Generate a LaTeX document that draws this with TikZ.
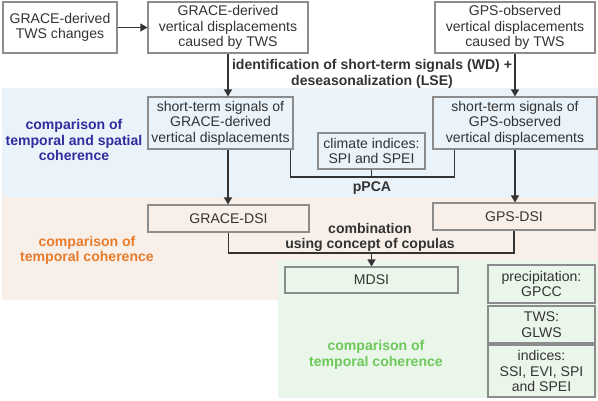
\documentclass[tikz,border=0pt]{standalone}
\usepackage{fontspec}
\setmainfont{Liberation Sans}
\usetikzlibrary{arrows.meta}
\definecolor{bandblue}{HTML}{EAF3FA}
\definecolor{bandpeach}{HTML}{F8F0E8}
\definecolor{bandgreen}{HTML}{EBF6EA}
\definecolor{boxgray}{HTML}{8C8C8C}
\definecolor{inkgray}{HTML}{333333}
\definecolor{zoneblue}{HTML}{2E2E9E}
\definecolor{zoneorange}{HTML}{E87B2C}
\definecolor{zonegreen}{HTML}{6CC95A}
\tikzset{
  box/.style={draw=boxgray,line width=0.6pt,align=center,inner sep=0pt,text=inkgray,
    font=\fontsize{8}{8.9}\selectfont},
  flow/.style={line width=0.75pt,draw=inkgray,-{Triangle[length=4pt,width=4.5pt]}},
  link/.style={line width=0.75pt,draw=inkgray},
  steplabel/.style={font=\fontsize{8}{8.9}\selectfont\bfseries,align=center,text=inkgray},
  zonelabel/.style={font=\fontsize{8}{8.9}\selectfont\bfseries,align=center}
}
\begin{document}
\begin{tikzpicture}[x=0.02cm,y=-0.02cm]
        \useasboundingbox (0,0) rectangle (598,400);
        % background bands
        \fill[bandblue] (2,88) rectangle (598,197);
        \fill[bandpeach] (2,197) rectangle (598,300);
        \fill[bandgreen] (278,260) rectangle (598,398);
        % top row
        \node[box,minimum width=2.28cm,minimum height=1.02cm] (tws) at (60,27.5) {GRACE-derived\\TWS changes};
        \node[box,minimum width=3.2cm,minimum height=1.02cm] (gracevd) at (228,27.5) {GRACE-derived\\vertical displacements\\caused by TWS};
        \node[box,minimum width=3.2cm,minimum height=1.02cm] (gpsvd) at (515,27.5) {GPS-observed\\vertical displacements\\caused by TWS};
        \draw[flow] (tws) -- (gracevd);
        \node[steplabel] (lse) at (372,74) {identification of short-term signals (WD) +\\deseasonalization (LSE)};
        % short-term signals
        \node[box,minimum width=2.9cm,minimum height=1.04cm] (stgrace) at (220.5,123) {short-term signals of\\GRACE-derived\\vertical displacements};
        \node[box,minimum width=3.28cm,minimum height=1.04cm] (stgps) at (515,123) {short-term signals of\\GPS-observed\\vertical displacements};
        \node[box,minimum width=2.14cm,minimum height=0.72cm] (climate) at (371.5,151) {climate indices:\\SPI and SPEI};
        \draw[flow] (gracevd.south) -- (gracevd.south |- stgrace.north);
        \draw[flow] (gpsvd.south) -- (gpsvd.south |- stgps.north);
        \coordinate (pca) at (371.5,177);
        \draw[link] ([xshift=-0.06cm]stgrace.south east) |- (pca) -| ([xshift=0.44cm]stgps.south west);
        \draw[link] (climate.south) -- (climate.south |- pca);
        \node[steplabel] (pcalabel) at (372,188) {pPCA};
        % drought indices
        \node[box,minimum width=3.22cm,minimum height=0.54cm] (gracedsi) at (228.5,218.5) {GRACE-DSI};
        \node[box,minimum width=3.24cm,minimum height=0.54cm] (gpsdsi) at (514,216.5) {GPS-DSI};
        \draw[flow] (gracevd.south |- stgrace.south) -- (gracevd.south |- gracedsi.north);
        \draw[flow] (stgps.south) -- (stgps.south |- gpsdsi.north);
        \coordinate (cop) at (371.5,253);
        \draw[link] (gracedsi.south) |- (cop) -| (gpsdsi.south);
        \node[steplabel] (coplabel) at (370,237.5) {combination\\using concept of copulas};
        % combined index and validation data
        \node[box,minimum width=3.46cm,minimum height=0.52cm] (mdsi) at (371.5,280) {MDSI};
        \draw[flow] (cop) -- (mdsi.north);
        \node[box,minimum width=2.14cm,minimum height=0.76cm] (precip) at (541.5,284) {precipitation:\\GPCC};
        \node[box,minimum width=2.14cm,minimum height=0.74cm] (glws) at (541.5,324.5) {TWS:\\GLWS};
        \node[box,minimum width=2.14cm,minimum height=1.04cm] (indices) at (541.5,371) {indices:\\SSI, EVI, SPI\\and SPEI};
        % zone labels
        \node[zonelabel,text=zoneblue] (zonespatial) at (74,140) {comparison of\\temporal and spatial\\coherence};
        \node[zonelabel,text=zoneorange] (zonedsi) at (87,250.5) {comparison of\\temporal coherence};
        \node[zonelabel,text=zonegreen] (zonemdsi) at (376,355) {comparison of\\temporal coherence};
    \end{tikzpicture}
\end{document}
